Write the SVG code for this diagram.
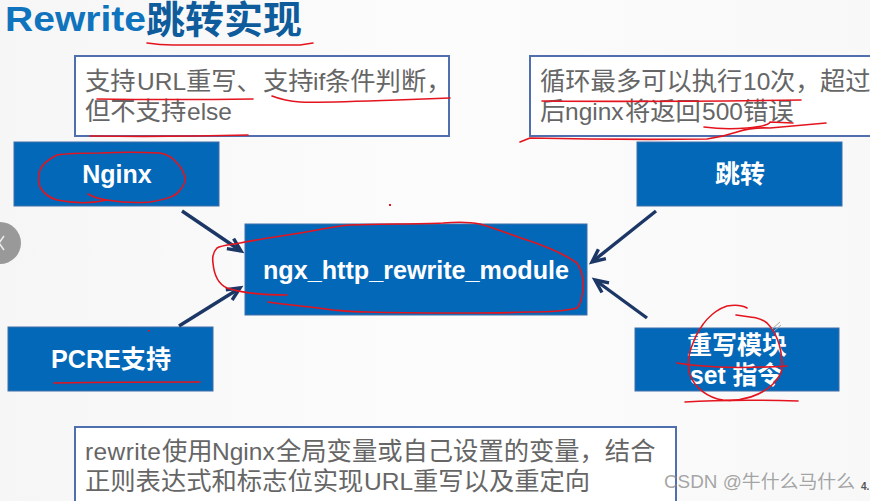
<svg xmlns="http://www.w3.org/2000/svg" width="870" height="501" viewBox="0 0 870 501">
<style>
text{font-family:"Liberation Sans","Noto Sans CJK SC",sans-serif}
.note{fill:#fff;stroke:#4f6fae;stroke-width:2}
.blue{fill:#0468b8;stroke:#3f6ea8;stroke-width:1}
.t{font-size:25.3px;fill:#666}
.l{font-size:24.5px}
.w{font-size:25px;font-weight:700;fill:#fff;text-anchor:middle}
.red{fill:none;stroke:#e4141e;stroke-width:1.6;stroke-linecap:round;stroke-linejoin:round}
.arr{stroke:#1c3766;stroke-width:3.4;fill:none;marker-end:url(#a)}
</style>
<defs>
<marker id="a" markerUnits="userSpaceOnUse" markerWidth="20" markerHeight="20" refX="15" refY="8" orient="auto">
<path d="M2 2L15 8L2 14" fill="none" stroke="#1c3766" stroke-width="3.4"/>
</marker>
<linearGradient id="bg" x1="0" y1="0" x2="1" y2="0"><stop offset="0" stop-color="#f6f6f6"/><stop offset=".5" stop-color="#fcfcfc"/><stop offset="1" stop-color="#f8f8f8"/></linearGradient>
</defs>
<rect width="870" height="501" fill="url(#bg)"/>
<g id="title">
<text x="5" y="31" font-size="35" font-weight="700" fill="#0f74bd" textLength="141" lengthAdjust="spacingAndGlyphs">Rewrite</text>
<text x="146" y="33" font-size="38" font-weight="700" fill="#0e5c9b" textLength="156" lengthAdjust="spacingAndGlyphs">跳转实现</text>
</g>
<g id="note-top-left">
<rect class="note" x="75" y="56" width="374" height="80"/>
<text class="t" y="90"><tspan x="85">支持</tspan><tspan class="l" x="137">URL</tspan><tspan x="186">重写、</tspan><tspan x="263">支持</tspan><tspan class="l" x="313">if</tspan><tspan x="325">条件判断，</tspan></text>
<text class="t" y="120"><tspan x="85">但不支持</tspan><tspan class="l" x="187">else</tspan></text>
</g>
<g id="note-top-right">
<rect class="note" x="530" y="56" width="345" height="80"/>
<text class="t" y="90"><tspan x="540">循环最多可以执行</tspan><tspan class="l" x="743">10</tspan><tspan x="770">次，</tspan><tspan x="820">超过</tspan></text>
<text class="t" y="120"><tspan x="540">后</tspan><tspan class="l" x="565">nginx</tspan><tspan x="625">将返回</tspan><tspan class="l" x="702">500</tspan><tspan x="743">错误</tspan></text>
</g>
<g id="node-nginx"><rect class="blue" x="14" y="142" width="205" height="64"/><text class="w" x="117" y="183">Nginx</text></g>
<g id="node-jump"><rect class="blue" x="637" y="142" width="205" height="64"/><text class="w" x="740" y="183">跳转</text></g>
<g id="node-module"><rect class="blue" x="245" y="224" width="342" height="91"/><text class="w" x="416" y="279" textLength="306" lengthAdjust="spacingAndGlyphs">ngx_http_rewrite_module</text></g>
<g id="node-pcre"><rect class="blue" x="8" y="327" width="205" height="64"/><text class="w" x="111" y="368" textLength="120" lengthAdjust="spacingAndGlyphs">PCRE支持</text></g>
<g id="node-rewrite"><rect class="blue" x="635" y="328" width="204" height="63"/>
<text class="w" x="737" y="354" textLength="100" lengthAdjust="spacingAndGlyphs">重写模块</text>
<text class="w" x="736" y="384" textLength="92" lengthAdjust="spacingAndGlyphs">set 指令</text></g>
<g id="note-bottom">
<rect class="note" x="75" y="427" width="601" height="80"/>
<text class="t" y="460"><tspan class="l" x="85" letter-spacing=".4">rewrite</tspan><tspan x="162">使用</tspan><tspan class="l" x="212">Nginx</tspan><tspan x="276">全局变量或自己设置的变量，结合</tspan></text>
<text class="t" y="490"><tspan x="85">正则表达式和标志位实现</tspan><tspan class="l" x="364">URL</tspan><tspan x="413">重写以及重定向</tspan></text>
</g>
<g id="connectors">
<path class="arr" d="M182 211L241 251"/>
<path class="arr" d="M179 326L240 288"/>
<path class="arr" d="M656 211L592 262"/>
<path class="arr" d="M647 318L595 280"/>
</g>
<g id="annotations">
<path class="red" d="M147 43Q160 45 173 45T300 45L313 43"/>
<path class="red" d="M97 99Q170 100 253 99"/>
<path class="red" d="M272 96Q285 101 300 102T397 100L450 98"/>
<path class="red" d="M90 136Q170 137 248 135"/>
<path class="red" d="M542 101Q650 102 801 100"/>
<path class="red" d="M520 142L530 138Q620 140 707 139Q722 137 737 132T770 128L826 123"/>
<path class="red" d="M704 127Q725 130 747 128T770 122L793 123"/>
<path class="red" d="M88 194C95 198 100 199 107 200C125 203 138 203 150 202C168 199 176 196 180 190C185 184 186 181 185 177C183 170 180 166 177 163C172 157 166 154 160 153C140 152 120 152 100 153C85 153 70 153 57 155C47 160 42 165 40 170C38 176 38 182 40 187C44 194 50 198 57 200C72 203 90 204 107 200"/>
<path class="red" d="M287 295C265 295 245 294 227 288C218 284 214 274 213 263C212 256 214 251 217 248C222 245 230 245 240 243C265 238 290 235 317 230C328 228 338 226 350 225C380 224 415 224 443 223C455 222 470 222 480 224C497 229 512 235 527 240C545 246 563 253 577 263C583 272 584 280 583 290C582 299 580 305 577 308C565 311 548 312 530 312C505 313 485 313 460 313C428 313 398 313 367 312C355 312 345 311 333 310C310 307 290 305 268 302"/>
<path class="red" d="M54 383Q120 382 200 382"/>
<path class="red" d="M747 308C740 304 733 305 727 306C712 311 700 325 693 343C688 355 687 366 690 375C695 388 708 398 723 400C742 402 762 395 773 384C780 377 783 371 782 362C781 345 776 332 767 323C758 316 747 317 736 315"/>
<path class="red" d="M677 363Q720 370 787 366"/>
<path class="red" d="M685 402Q730 399 798 401"/>
<path d="M389 204h2v2h-2zM148 330h2v1.500h-2z" fill="#e4141e"/>
<path d="M772 329L780 322M774 331L781 325" stroke="#aaa" stroke-width="1" fill="none"/>
</g>
<g id="page-ui">
<circle cx="0" cy="243" r="21" fill="#999"/>
<path d="M4 236L-1 243L4 250" fill="none" stroke="#eee" stroke-width="1.500"/>
<text x="664" y="488" font-size="18" fill="#888" fill-opacity=".75" textLength="191" lengthAdjust="spacingAndGlyphs">CSDN @牛什么马什么</text>
<text x="861" y="490" font-size="10" font-weight="700" fill="#555">4.</text>
</g>
</svg>
